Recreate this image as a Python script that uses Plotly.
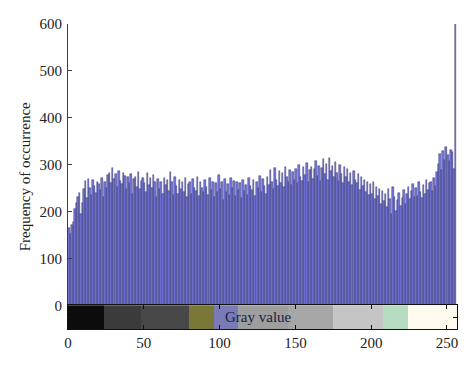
import plotly.graph_objects as go

# Histogram counts for gray values 0..255
counts = [
    165, 152, 172, 178, 205, 218, 232, 240, 195, 218,
    248, 266, 228, 270, 250, 236, 268, 255, 240, 264,
    258, 246, 272, 232, 264, 250, 277, 282, 260, 293,
    270, 280, 252, 287, 266, 258, 282, 275, 248, 274,
    260, 280, 238, 270, 274, 252, 284, 248, 266, 272,
    260, 242, 282, 256, 272, 250, 278, 262, 230, 270,
    248, 264, 238, 272, 256, 268, 244, 284, 262, 236,
    274, 254, 238, 268, 248, 264, 242, 272, 230, 258,
    264, 238, 270, 250, 244, 274, 234, 262, 250, 242,
    268, 252, 236, 272, 246, 264, 230, 260, 242, 278,
    248, 264, 224, 270, 242, 258, 236, 272, 250, 266,
    234, 264, 246, 260, 228, 268, 244, 256, 236, 272,
    254, 246, 268, 234, 264, 250, 276, 242, 270, 254,
    238, 274, 256, 288, 264, 248, 292, 268, 254, 286,
    260, 282, 252, 294, 274, 262, 288, 256, 284, 268,
    290, 260, 300, 274, 266, 294, 278, 304, 262, 288,
    296, 270, 290, 308, 276, 298, 266, 292, 312, 280,
    302, 268, 314, 286, 298, 274, 306, 282, 266, 300,
    280, 260, 296, 274, 290, 264, 282, 256, 286, 268,
    260, 280, 246, 274, 254, 268, 242, 264, 236, 258,
    238, 264, 226, 252, 234, 248, 216, 244, 222, 238,
    210, 248, 226, 194, 252, 230, 202, 224, 240, 212,
    228, 246, 216, 238, 252, 226, 244, 258, 230, 250,
    234, 264, 242, 228, 256, 238, 268, 246, 260, 264,
    244, 272, 254, 284, 302, 322, 288, 330, 310, 338,
    320, 308, 332, 326, 290, 600,
]
gray_levels = list(range(256))
bin_centers = [g + 0.5 for g in gray_levels]

# Gray-value colour strip segments
seg_start = [0, 24, 48, 80, 96, 112, 145, 175, 208, 224]
seg_end = [24, 48, 80, 96, 112, 145, 175, 208, 224, 257]
seg_colors = ['#0c0c0c', '#3b3b3b', '#484848', '#7a7838', '#7a7ab6',
              '#9e9e9f', '#a7a7a8', '#c5c5c5', '#b6dcc0', '#fffaee']

x_ticks = [0, 50, 100, 150, 200, 250]
y_ticks = [0, 100, 200, 300, 400, 500, 600]

FONT = 'Liberation Serif'
NAVY = '#3a3a5c'

fig = go.Figure()
fig.add_trace(go.Bar(
    x=bin_centers, y=counts, width=1.0,
    marker=dict(color='#7676e2', line=dict(color='#3a3a6c', width=0.5)),
    xaxis='x', yaxis='y', showlegend=False,
))
fig.add_trace(go.Bar(
    x=[(a + b) / 2 for a, b in zip(seg_start, seg_end)],
    y=[50] * len(seg_start), base=-50,
    width=[b - a for a, b in zip(seg_start, seg_end)],
    marker=dict(color=seg_colors, line=dict(width=0)),
    xaxis='x2', yaxis='y2', showlegend=False,
))

strip_frac = 0.0777
fig.update_layout(
    width=474, height=367,
    margin=dict(l=68, r=17, t=24, b=38),
    paper_bgcolor='white', plot_bgcolor='white',
    bargap=0, barmode='overlay',
    font=dict(family=FONT, size=14, color='#222222'),
    xaxis=dict(domain=[0, 1], range=[0, 256.6], anchor='y', matches='x2',
               showticklabels=False, showline=False, showgrid=False,
               zeroline=False, ticks='', automargin=False),
    yaxis=dict(domain=[strip_frac, 1], range=[0, 600], tickvals=y_ticks,
               showline=True, linecolor=NAVY, linewidth=1.2,
               ticks='inside', ticklen=4, tickcolor=NAVY,
               tickfont=dict(size=15), ticklabelstandoff=2,
               showgrid=False, zeroline=False, automargin=False),
    xaxis2=dict(domain=[0, 1], range=[0, 256.6], anchor='y2', tickvals=x_ticks,
                showline=True, linecolor='#111111', linewidth=1,
                mirror='allticks', ticks='inside', ticklen=4, tickcolor='#111111',
                tickfont=dict(size=15),
                showgrid=False, zeroline=False, automargin=False),
    yaxis2=dict(domain=[0, strip_frac], range=[-50, 0], tickvals=[-25],
                showticklabels=False, showline=True, linecolor='#111111',
                linewidth=1, mirror='allticks', ticks='inside', ticklen=4,
                tickcolor='#111111', showgrid=False, zeroline=False,
                automargin=False),
    annotations=[
        dict(text='Frequency of occurrence', xref='paper', yref='paper',
             x=-0.111, y=0.5, xanchor='center', yanchor='middle',
             textangle=-90, showarrow=False,
             font=dict(family=FONT, size=15, color='#222222')),
        dict(text='Gray value', xref='x2', yref='y2', x=125.6, y=-25,
             xanchor='center', yanchor='middle', showarrow=False,
             font=dict(family=FONT, size=15, color='#1c1c44')),
    ],
)

fig.write_html('out.html', config={'displayModeBar': False},
               post_script="document.body.style.margin='0';document.body.style.overflow='hidden';")
